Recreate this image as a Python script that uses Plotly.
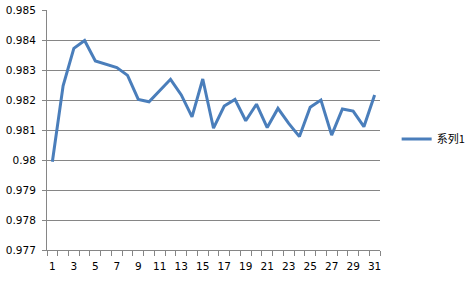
import plotly.graph_objects as go

categories = list(range(1, 32))
series1 = [0.97994, 0.98247, 0.98372, 0.98398, 0.98330, 0.98319, 0.98308, 0.98282,
           0.98202, 0.98194, 0.98231, 0.98269, 0.98217, 0.98144, 0.98270, 0.98106,
           0.98180, 0.98202, 0.98131, 0.98186, 0.98108, 0.98172, 0.98122, 0.98078,
           0.98176, 0.98200, 0.98083, 0.98170, 0.98163, 0.98111, 0.98217]
y_ticks = [0.977, 0.978, 0.979, 0.98, 0.981, 0.982, 0.983, 0.984, 0.985]
y_ticktext = ["0.977", "0.978", "0.979", "0.98", "0.981", "0.982", "0.983", "0.984", "0.985"]
x_ticks = [c for c in categories if c % 2 == 1]

fig = go.Figure()
fig.add_trace(go.Scatter(x=categories, y=series1, mode="lines", name="系列1",
                         line=dict(color="#4a7ebb", width=3)))

grid = "#868686"
fig.update_layout(
    width=472, height=282,
    margin=dict(l=47, r=92, t=10, b=32, autoexpand=False),
    paper_bgcolor="white", plot_bgcolor="white",
    font=dict(family="DejaVu Sans", size=10.5, color="black"),
    showlegend=True,
    legend=dict(x=1.05, y=0.4625, xanchor="left", yanchor="middle",
                font=dict(family="Noto Sans CJK SC", size=11, color="black"),
                itemwidth=30, bgcolor="rgba(0,0,0,0)"),
    xaxis=dict(range=[0.5, 31.5], tickvals=x_ticks, ticktext=[str(v) for v in x_ticks],
               ticks="", showgrid=False, zeroline=False, automargin=False,
               showline=True, linecolor=grid, linewidth=1,
               ticklabelstandoff=6,
               minor=dict(ticks="outside", tick0=0.5, dtick=1, ticklen=5,
                          tickcolor=grid, showgrid=False)),
    yaxis=dict(range=[0.977, 0.985], tickvals=y_ticks, ticktext=y_ticktext,
               ticks="outside", ticklen=4, tickcolor=grid, automargin=False,
               showgrid=True, gridcolor=grid, gridwidth=1, zeroline=False,
               showline=True, linecolor=grid, linewidth=1,
               ticklabelstandoff=4),
)

fig.write_html("out.html")
